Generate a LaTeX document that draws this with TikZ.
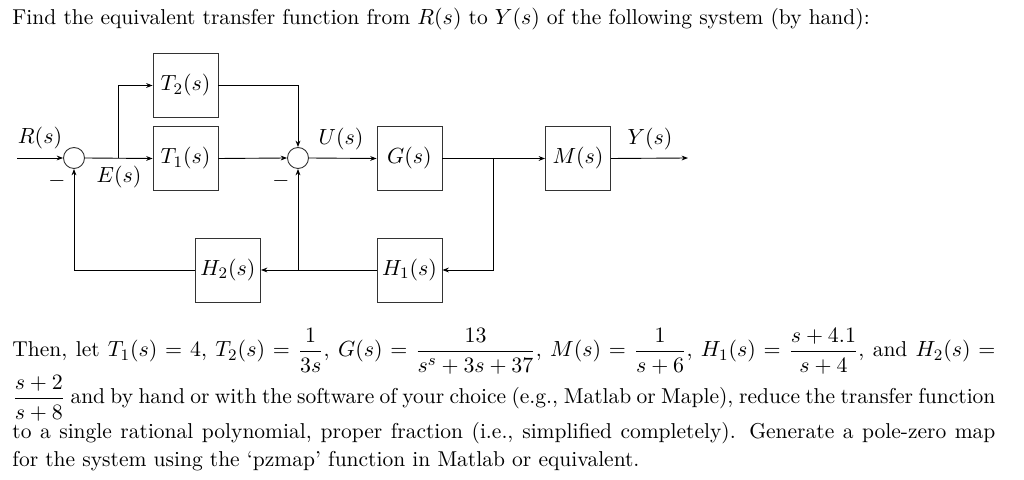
\documentclass[tikz,border=0pt]{standalone}
\usepackage{amsmath}
\usetikzlibrary{arrows.meta}
\begin{document}
\begin{tikzpicture}[x=0.5pt,y=-0.5pt,
  line width=0.45pt,
  every node/.style={font=\fontsize{10.75}{13}\selectfont},
  >={Stealth[length=3.2pt,width=2.4pt]},
  blk/.style={draw=black!80, minimum width=32.5pt, minimum height=32pt, inner sep=0pt},
  sumj/.style={draw=black!80, circle, minimum size=10.5pt, inner sep=0pt},
  txt/.style={anchor=base west, inner sep=0pt}]
\useasboundingbox (0,0) rectangle (1024,480);
% title
\node[txt] (title) at (12,25) {Find the equivalent transfer function from $R(s)$ to $Y(s)$ of the following system (by hand):};
% blocks
\node[sumj] (sum1) at (74,158) {};
\node[sumj] (sum2) at (298,158) {};
\node[blk] (T2) at (185.5,85.5) {$T_2(s)$};
\node[blk] (T1) at (185.5,158.5) {$T_1(s)$};
\node[blk] (G) at (409.5,158.5) {$G(s)$};
\node[blk] (M) at (578,158.5) {$M(s)$};
\node[blk] (H2) at (228,270) {$H_2(s)$};
\node[blk] (H1) at (409.5,270) {$H_1(s)$};
% coordinates
\coordinate (in) at (17,158);
\coordinate (eb) at (118,158);
\coordinate (yb) at (493,158);
\coordinate (out) at (688,158);
\coordinate (jb) at (298,270);
% connectors
\draw[->] (in) -- (sum1.west);
\draw[->] (sum1.east) -- (T1.west);
\draw[->] (eb) |- (T2.west);
\draw[->] (T1.east) -- (sum2.west);
\draw[->] (T2.east) -| (sum2.north);
\draw[->] (sum2.east) -- (G.west);
\draw[->] (G.east) -- (M.west);
\draw[->] (M.east) -- (out);
\draw[->] (yb) |- (H1.east);
\draw[->] (H1.west) -- (H2.east);
\draw[->] (jb) -- (sum2.south);
\draw[->] (H2.west) -| (sum1.south);
% labels
\node (lR) at (40,138) {$R(s)$};
\node (lE) at (119,177) {$E(s)$};
\node (lU) at (341,139) {$U(s)$};
\node (lY) at (650,139) {$Y(s)$};
\node (m1) at (57,181) {$-$};
\node (m2) at (281,181) {$-$};
% text
\node[txt] (l1) at (12,357) {\makebox[491.5pt][s]{Then, let $T_1(s) = 4$, $T_2(s) = \dfrac{1}{3s}$, $G(s) = \dfrac{13}{s^s+3s+37}$, $M(s) = \dfrac{1}{s+6}$, $H_1(s) = \dfrac{s+4.1}{s+4}$, and $H_2(s) =$}};
\node[txt] (l2) at (12,404) {\makebox[491.5pt][s]{$\dfrac{s+2}{s+8}$ and by hand or with the software of your choice (e.g., Matlab or Maple), reduce the transfer function}};
\node[txt] (l3) at (12,439) {\makebox[491.5pt][s]{to a single rational polynomial, proper fraction (i.e., simplified completely). Generate a pole-zero map}};
\node[txt] (l4) at (12,467) {for the system using the `pzmap' function in Matlab or equivalent.};
\end{tikzpicture}
\end{document}
